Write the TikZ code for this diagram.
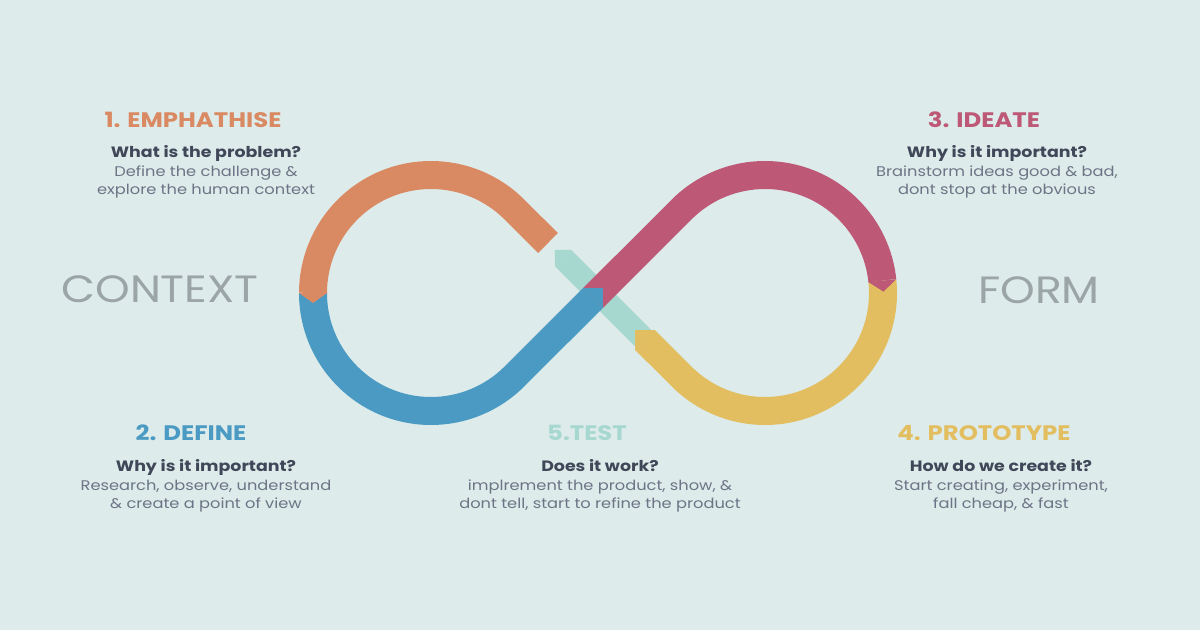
\documentclass[tikz,border=0pt]{standalone}
\usepackage{fontspec}
\setmainfont{Poppins}[FakeStretch=1.16]
\usetikzlibrary{calc}
\definecolor{bgcol}{HTML}{DDEBEA}
\definecolor{orangeband}{HTML}{DA8A63}
\definecolor{blueband}{HTML}{4A9AC4}
\definecolor{pinkband}{HTML}{BD5877}
\definecolor{yellowband}{HTML}{E3BE60}
\definecolor{tealband}{HTML}{A7D8D0}
\definecolor{headcol}{HTML}{3F4759}
\definecolor{bodycol}{HTML}{6D7486}
\definecolor{sidecol}{HTML}{9BA4A6}

\begin{document}
\begin{tikzpicture}[x=1pt,y=1pt,
  band/.style={line width=28pt,line cap=butt},
  title/.style={font=\fontsize{21}{24}\selectfont\bfseries},
  blurb/.style={align=center,text=bodycol,font=\fontsize{14}{18.5}\selectfont},
  side/.style={text=sidecol,font=\fontsize{38}{40}\selectfont}]
\newcommand\head[1]{{\fontsize{15}{18.5}\selectfont\bfseries\color{headcol}#1}}
\useasboundingbox (0,0) rectangle (1200,630);
\fill[bgcol] (0,0) rectangle (1200,630);

\coordinate (C) at (598,337);
\coordinate (L) at (431,337);
\coordinate (R) at (765,337);

% test
\draw[band,line width=23pt,tealband] ($(C)+(47,-47)$) -- ($(C)+(-35,35)$);
\fill[tealband] ($(C)+(-35,35)+(8.13,8.13)$) -- ($(C)+(-43.13,43.13)$) -- ($(C)+(-35,35)+(-8.13,-8.13)$) -- cycle;
% prototype
\draw[band,yellowband] ($(C)+(47,-47)$) -- ($(R)+(225:118)$) arc[start angle=225,end angle=366,radius=118pt];
\fill[yellowband] ($(C)+(47,-47)+(9.9,9.9)$) -- ($(C)+(47,-47)+(-9.9,9.9)$) -- ($(C)+(47,-47)+(-9.9,-9.9)$) -- cycle;
% ideate
\draw[band,pinkband] ($(C)+(-5,-5)$) -- ($(R)+(135:118)$) arc[start angle=135,end angle=6,radius=118pt];
\fill[pinkband] ($(R)+(6:104)$) -- ($(R)+(6:118)+(1.15,-10.94)$) -- ($(R)+(6:132)$) -- cycle;
% define
\draw[band,blueband] ($(L)+(180:118)$) arc[start angle=180,end angle=315,radius=118pt] -- ($(C)+(-5,-5)$);
\fill[blueband] ($(C)+(-5,-5)+(-9.9,9.9)$) -- ($(C)+(-5,-5)+(9.9,9.9)$) -- ($(C)+(-5,-5)+(9.9,-9.9)$) -- cycle;
% emphathise
\draw[band,orangeband] ($(C)+(-50,50)$) -- ($(L)+(45:118)$) arc[start angle=45,end angle=180,radius=118pt];
\fill[orangeband] ($(L)+(180:104)$) -- ($(L)+(180:118)+(0,-10)$) -- ($(L)+(180:132)$) -- cycle;

\node[side] (context) at (160,341) {CONTEXT};
\node[side] (form) at (1039,340) {FORM};

\node[title,text=orangeband] (emph) at (193,510) {1. EMPHATHISE};
\node[blurb] (emphtxt) at (206,458) {\head{What is the problem?}\\Define the challenge \&\\explore the human context};
\node[title,text=pinkband] (ideate) at (984,510) {3. IDEATE};
\node[blurb] (ideatetxt) at (997,458) {\head{Why is it important?}\\Brainstorm ideas good \& bad,\\dont stop at the obvious};
\node[title,text=blueband] (define) at (191,197) {2. DEFINE};
\node[blurb] (definetxt) at (206,144) {\head{Why is it important?}\\Research, observe, understand\\\& create a point of view};
\node[title,text=tealband] (test) at (587,197) {5.TEST};
\node[blurb] (testtxt) at (600,144) {\head{Does it work?}\\implrement the product, show, \&\\dont tell, start to refine the product};
\node[title,text=yellowband] (proto) at (984,197) {4. PROTOTYPE};
\node[blurb] (prototxt) at (1001,144) {\head{How do we create it?}\\Start creating, experiment,\\fall cheap, \& fast};
\end{tikzpicture}
\end{document}
